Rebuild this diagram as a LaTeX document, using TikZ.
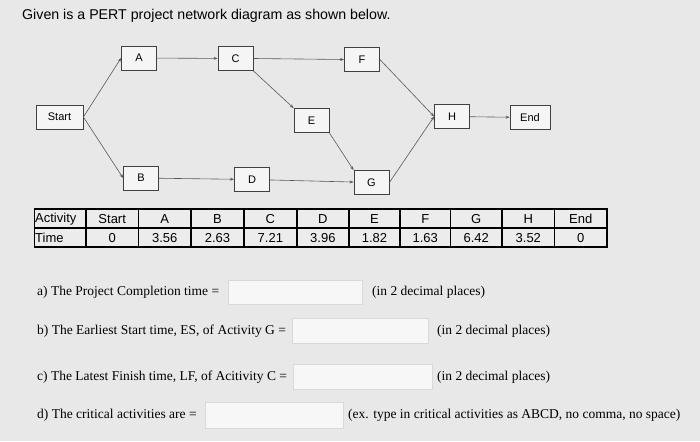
\documentclass[tikz,border=0pt]{standalone}
\usepackage{fontspec}
\setmainfont{Liberation Serif}
\newfontfamily\arial{Liberation Sans}
\usetikzlibrary{arrows.meta}
\begin{document}
\begin{tikzpicture}[x=1pt,y=-1pt,
  bx/.style={draw=black!75,fill=gray!8,minimum width=35pt,minimum height=24pt,inner sep=1pt,font=\arial\fontsize{11}{12}\selectfont,line width=0.8pt},
  ar/.style={draw=black!65,line width=0.6pt,-{Stealth[length=4pt,width=3pt]}},
  cell/.style={font=\arial\fontsize{13}{14}\selectfont,anchor=center},
  ans/.style={draw=black!15,fill=gray!6,line width=0.6pt},
  q/.style={font=\fontsize{13.5}{15}\selectfont,anchor=west,inner sep=0pt}]
\fill[gray!18] (0,0) rectangle (700,441);
\useasboundingbox (0,0) rectangle (700,441);
\node[anchor=west,inner sep=0pt,font=\arial\fontsize{14.2}{16}\selectfont] (title) at (22,16) {Given is a PERT project network diagram as shown below.};
\node[bx,minimum width=47pt] (S) at (59.5,117) {Start};
\node[bx] (A) at (139,58) {A};
\node[bx] (C) at (235.5,58.5) {C};
\node[bx] (F) at (362,59.5) {F};
\node[bx] (E) at (311.5,120.5) {E};
\node[bx] (H) at (452,116.5) {H};
\node[bx,minimum width=40pt] (End) at (530,117.5) {End};
\node[bx] (B) at (141,178) {B};
\node[bx] (D) at (252,179.5) {D};
\node[bx] (G) at (371.5,182.5) {G};
\draw[ar] (S.east) -- (A.west);
\draw[ar] (S.east) -- (B.west);
\draw[ar] (A) -- (C);
\draw[ar] (C.east) -- (F.west);
\draw[ar] (C.south east) -- (E.north west);
\draw[ar] (B) -- (D);
\draw[ar] (D) -- (G);
\draw[ar] (E.south east) -- (G.north west);
\draw[ar] (F.east) -- (H.west);
\draw[ar] (G.east) -- (H.west);
\draw[ar] (H) -- (End);
% table
\fill[white!85!gray] (34.5,209) rectangle (607,247);
\draw[line width=1.6pt] (34.5,209) rectangle (607,247);
\draw[line width=1.2pt] (34.5,228) -- (607,228);
\foreach \x in {85.8,138.6,191,244,296.7,349,400,450.5,502,554.6}
  \draw[line width=1.6pt] (\x,209) -- (\x,247);
\node[cell,anchor=west,inner sep=0.5pt] (h0) at (34.5,219) {Activity};
\node[cell,anchor=west,inner sep=0.5pt] (t0) at (34.5,238) {Time};
\foreach \a/\b/\lab/\val [count=\i] in {85.8/138.6/Start/0,138.6/191/A/3.56,191/244/B/2.63,244/296.7/C/7.21,296.7/349/D/3.96,349/400/E/1.82,400/450.5/F/1.63,450.5/502/G/6.42,502/554.6/H/3.52,554.6/607/End/0}{
  \node[cell] (h\i) at ({(\a+\b)/2},219) {\lab};
  \node[cell] (t\i) at ({(\a+\b)/2},238) {\val};
}
% questions
\node[q] (qa) at (37,292) {a) The Project Completion time =};
\draw[ans] (228,280) rectangle (362,304);
\node[q] (pa) at (372,292) {(in 2 decimal places)};
\node[q] (qb) at (37,331) {b) The Earliest Start time, ES, of Activity G =};
\draw[ans] (292,318) rectangle (428,343);
\node[q] (pb) at (437,331) {(in 2 decimal places)};
\node[q] (qc) at (37,377) {c) The Latest Finish time, LF, of Acitivity C =};
\draw[ans] (293,364) rectangle (432,389);
\node[q] (pc) at (437,377) {(in 2 decimal places)};
\node[q] (qd) at (37,415) {d) The critical activities are =};
\draw[ans] (205,402) rectangle (343,428);
\node[q] (pd) at (348,415) {(ex. type in critical activities as ABCD, no comma, no space)};
\end{tikzpicture}
\end{document}
